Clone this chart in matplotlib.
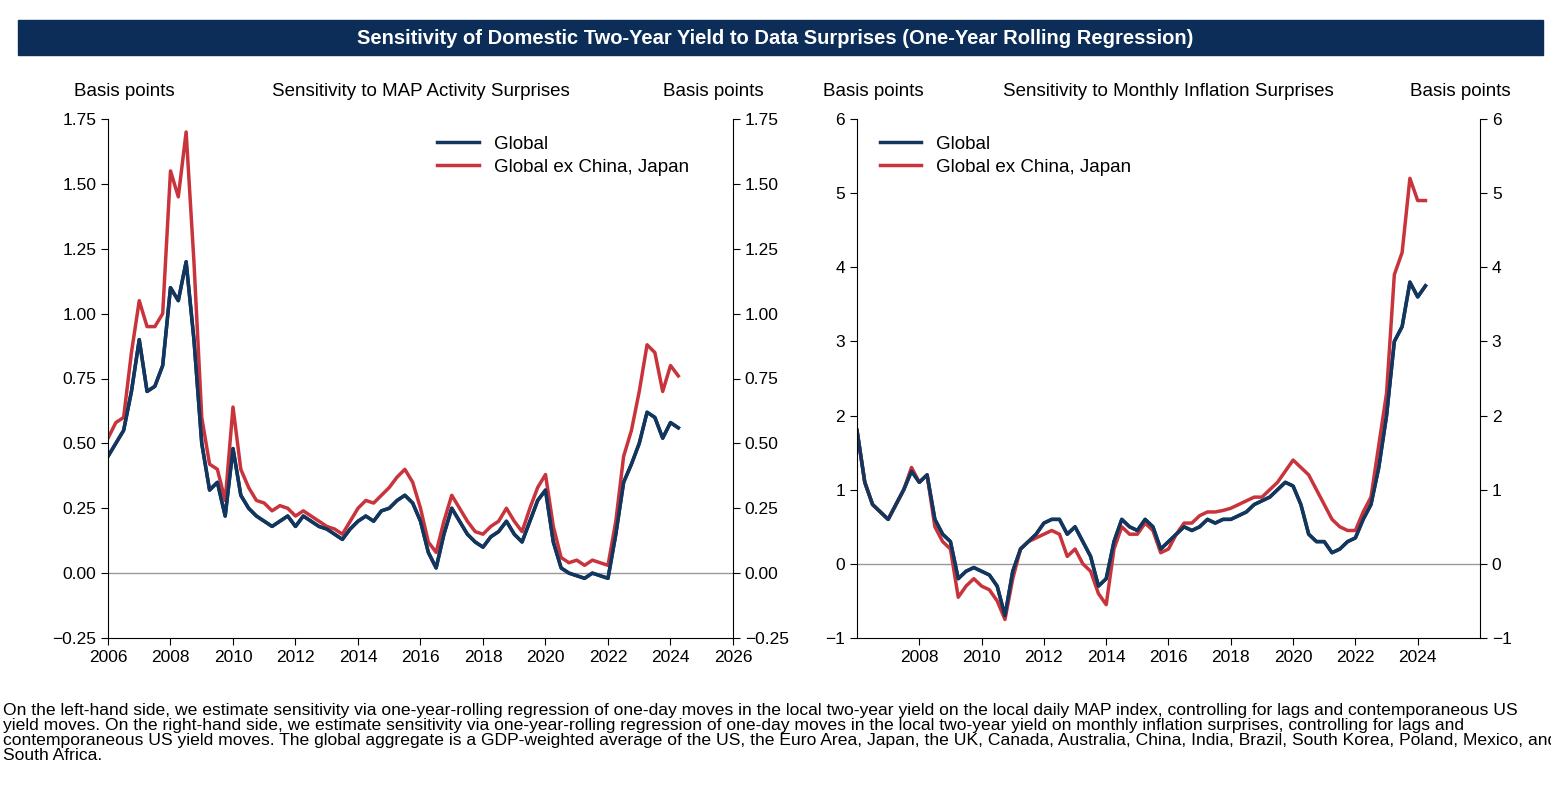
import matplotlib
matplotlib.use("Agg")
import matplotlib.pyplot as plt
import numpy as np

plt.rcParams['font.family'] = ['Liberation Sans', 'DejaVu Sans']

NAVY = "#12365e"
RED = "#c9343c"

# quarterly points, left panel (MAP activity)
qx_left = np.arange(2006.0, 2024.26, 0.25)
act_global = [0.45, 0.50, 0.55, 0.70, 0.90, 0.70, 0.72, 0.80, 1.10, 1.05, 1.20, 0.90,
              0.50, 0.32, 0.35, 0.22, 0.48, 0.30, 0.25, 0.22, 0.20, 0.18, 0.20, 0.22,
              0.18, 0.22, 0.20, 0.18, 0.17, 0.15, 0.13, 0.17, 0.20, 0.22, 0.20, 0.24,
              0.25, 0.28, 0.30, 0.27, 0.20, 0.08, 0.02, 0.15, 0.25, 0.20, 0.15, 0.12,
              0.10, 0.14, 0.16, 0.20, 0.15, 0.12, 0.20, 0.28, 0.32, 0.12, 0.02, 0.00,
              -0.01, -0.02, 0.00, -0.01, -0.02, 0.15, 0.35, 0.42, 0.50, 0.62, 0.60, 0.52,
              0.58, 0.56]
act_excj = [0.52, 0.58, 0.60, 0.85, 1.05, 0.95, 0.95, 1.00, 1.55, 1.45, 1.70, 1.20,
            0.60, 0.42, 0.40, 0.28, 0.64, 0.40, 0.33, 0.28, 0.27, 0.24, 0.26, 0.25,
            0.22, 0.24, 0.22, 0.20, 0.18, 0.17, 0.15, 0.20, 0.25, 0.28, 0.27, 0.30,
            0.33, 0.37, 0.40, 0.35, 0.25, 0.12, 0.08, 0.20, 0.30, 0.25, 0.20, 0.16,
            0.15, 0.18, 0.20, 0.25, 0.20, 0.16, 0.25, 0.33, 0.38, 0.18, 0.06, 0.04,
            0.05, 0.03, 0.05, 0.04, 0.03, 0.20, 0.45, 0.55, 0.70, 0.88, 0.85, 0.70,
            0.80, 0.76]

# quarterly points, right panel (monthly inflation)
qx_right = np.arange(2006.0, 2024.26, 0.25)
inf_global = [1.80, 1.10, 0.80, 0.70, 0.60, 0.80, 1.00, 1.25, 1.10, 1.20, 0.60, 0.40,
              0.30, -0.20, -0.10, -0.05, -0.10, -0.15, -0.30, -0.70, -0.10, 0.20, 0.30, 0.40,
              0.55, 0.60, 0.60, 0.40, 0.50, 0.30, 0.10, -0.30, -0.20, 0.30, 0.60, 0.50,
              0.45, 0.60, 0.50, 0.20, 0.30, 0.40, 0.50, 0.45, 0.50, 0.60, 0.55, 0.60,
              0.60, 0.65, 0.70, 0.80, 0.85, 0.90, 1.00, 1.10, 1.05, 0.80, 0.40, 0.30,
              0.30, 0.15, 0.20, 0.30, 0.35, 0.60, 0.80, 1.30, 2.00, 3.00, 3.20, 3.80,
              3.60, 3.75]
inf_excj = [1.80, 1.10, 0.80, 0.70, 0.60, 0.80, 1.00, 1.30, 1.10, 1.20, 0.50, 0.30,
            0.20, -0.45, -0.30, -0.20, -0.30, -0.35, -0.50, -0.75, -0.20, 0.20, 0.30, 0.35,
            0.40, 0.45, 0.40, 0.10, 0.20, 0.00, -0.10, -0.40, -0.55, 0.20, 0.50, 0.40,
            0.40, 0.55, 0.45, 0.15, 0.20, 0.40, 0.55, 0.55, 0.65, 0.70, 0.70, 0.72,
            0.75, 0.80, 0.85, 0.90, 0.90, 1.00, 1.10, 1.25, 1.40, 1.30, 1.20, 1.00,
            0.80, 0.60, 0.50, 0.45, 0.45, 0.70, 0.90, 1.60, 2.30, 3.90, 4.20, 5.20,
            4.90, 4.90]

fig = plt.figure(figsize=(15.51, 7.90), dpi=100)

# title bar
fig.patches.append(plt.Rectangle((18/1551, 1-55/790), 1525/1551, 35/790,
                                 transform=fig.transFigure, color="#0b2d57", zorder=0))
fig.text(0.5, 1-38/790, "Sensitivity of Domestic Two-Year Yield to Data Surprises (One-Year Rolling Regression)",
         ha="center", va="center", color="white", fontsize=14.5, fontweight="bold")

def panel(left, right, title, x, g, e, ylim, yticks, fmt, xticks):
    ax = fig.add_axes([left/1551, 1-638/790, (right-left)/1551, (638-119)/790])
    ax.plot(x, g, color=NAVY, lw=2.5, label="Global")
    ax.plot(x, e, color=RED, lw=2.5, label="Global ex China, Japan")
    ax.plot(x, g, color=NAVY, lw=2.5)
    ax.axhline(0, color="#999999", lw=1, zorder=0)
    ax.set_xlim(2006, 2026)
    ax.set_ylim(*ylim)
    ax.set_yticks(yticks)
    ax.set_yticklabels([fmt(v) for v in yticks])
    ax.set_xticks(xticks)
    ax.tick_params(direction="out", labelsize=12.5, length=5, right=True, labelright=True)
    ax.spines["top"].set_visible(False)
    w = right - left
    ax.text(16/w, 1.045, "Basis points", transform=ax.transAxes, ha="center", fontsize=13.5)
    ax.text(1 - 20/w, 1.045, "Basis points", transform=ax.transAxes, ha="center", fontsize=13.5)
    ax.text(0.5, 1.045, title, transform=ax.transAxes, ha="center", fontsize=13.5)
    return ax

ax1 = panel(108, 733, "Sensitivity to MAP Activity Surprises", qx_left, act_global, act_excj,
            (-0.25, 1.75), np.arange(-0.25, 1.76, 0.25), lambda v: f"{v:.2f}".replace("-", "\u2212"),
            range(2006, 2027, 2))
ax1.legend(loc="upper left", bbox_to_anchor=(0.5, 1.0), frameon=False, fontsize=13.5,
           handlelength=2.2, labelspacing=0.3)

ax2 = panel(857, 1480, "Sensitivity to Monthly Inflation Surprises", qx_right, inf_global, inf_excj,
            (-1, 6), range(-1, 7), lambda v: f"{v}".replace("-", "\u2212"),
            range(2008, 2025, 2))
ax2.legend(loc="upper left", bbox_to_anchor=(0.01, 1.0), frameon=False, fontsize=13.5,
           handlelength=2.2, labelspacing=0.3)

note = ("On the left-hand side, we estimate sensitivity via one-year-rolling regression of one-day moves in the local two-year yield on the local daily MAP index, controlling for lags and contemporaneous US\n"
        "yield moves. On the right-hand side, we estimate sensitivity via one-year-rolling regression of one-day moves in the local two-year yield on monthly inflation surprises, controlling for lags and\n"
        "contemporaneous US yield moves. The global aggregate is a GDP-weighted average of the US, the Euro Area, Japan, the UK, Canada, Australia, China, India, Brazil, South Korea, Poland, Mexico, and\n"
        "South Africa.")
fig.text(3/1551, 1-703/790, note, ha="left", va="top", fontsize=12.6, linespacing=1.0)

fig.savefig("out.png", dpi=100)
